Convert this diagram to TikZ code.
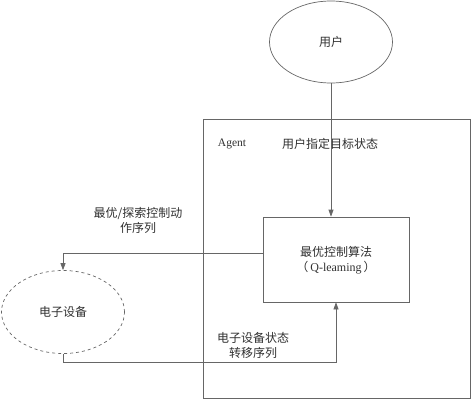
\documentclass[tikz,border=0pt]{standalone}
\usepackage{fontspec}
\setmainfont{Liberation Serif}
\newfontfamily\cjk{Noto Sans CJK SC}
\usetikzlibrary{shapes.geometric,arrows.meta}
\definecolor{ln}{HTML}{666666}
\definecolor{tx}{HTML}{303030}
\begin{document}
\begin{tikzpicture}[x=1pt,y=-1pt,
  lbl/.style={font=\cjk\fontsize{12}{15}\selectfont, text=tx, align=center, inner sep=0pt},
  conn/.style={draw=ln, line width=0.7pt},
  arr/.style={conn, -{Triangle[length=7pt,width=5pt]}},
  ell/.style={ellipse, draw=ln, line width=0.7pt, inner sep=0pt}]
\useasboundingbox (0,0) rectangle (474,402);
\node[ell, minimum width=123pt, minimum height=82pt] (user) at (331,42) {};
\node[lbl] (usert) at (331,42) {用户};
\node[draw=ln, line width=0.7pt, minimum width=267pt, minimum height=279pt, inner sep=0pt] (agent) at (336.5,258.5) {};
\node[font=\fontsize{11.5}{13}\selectfont, text=tx, inner sep=0pt] (agentt) at (232,144) {Agent};
\node[lbl] (goal) at (330,144) {用户指定目标状态};
\node[draw=ln, line width=0.7pt, minimum width=146pt, minimum height=85pt, inner sep=0pt] (algo) at (336,259.5) {};
\node[lbl] (algot) at (336,252) {最优控制算法};
\node[lbl] (algoq) at (336,268) {（\,\rmfamily Q-leaming\,\cjk）};
\node[ell, dashed, minimum width=123pt, minimum height=83pt] (dev) at (63,312) {};
\node[lbl] (devt) at (63,312) {电子设备};
\node[lbl] (act) at (138,220) {最优/探索控制动\\作序列};
\node[lbl] (st) at (253,345) {电子设备状态\\转移序列};
\coordinate (c1) at (63,253);
\coordinate (c2) at (63,362);
\coordinate (c3) at (336,362);
\draw[arr] (user.south) -- (user.south |- algo.north);
\draw[arr] (algo.west |- c1) -- (c1) -- (dev.north);
\draw[arr] (dev.south) -- (c2) -- (c3) -- (algo.south -| c3);
\end{tikzpicture}
\end{document}
